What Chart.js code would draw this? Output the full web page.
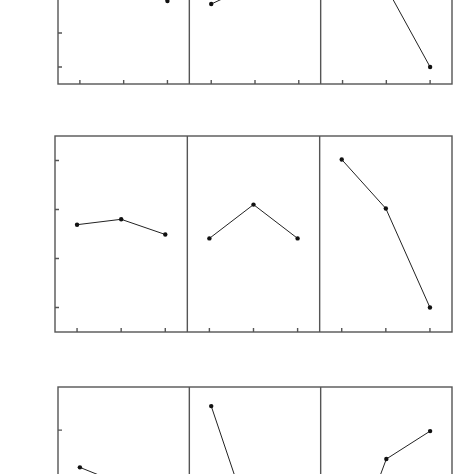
<!DOCTYPE html>
<html><head><meta charset="utf-8">
<script src="https://cdn.jsdelivr.net/npm/chart.js@4"></script>
<style>html,body{margin:0;padding:0;background:#fff;overflow:hidden;width:474px;height:474px;position:relative}
canvas{position:absolute}</style></head><body>
<canvas id="c1" width="474" height="212" style="left:0;top:-120px"></canvas>
<canvas id="c2" width="474" height="212" style="left:0;top:128px"></canvas>
<canvas id="c3" width="474" height="212" style="left:0;top:379px"></canvas>
<script>
const levelPositions = [0.5, 1.5, 2.5];
const yTicks = [1, 2, 3, 4, 5, 6];
// row 1 (top, partly cut)
const row1Panel1 = [3.5, 3.6, 2.94];
const row1Panel2 = [2.85, 3.45, 3.8];
const row1Panel3 = [4.6, 3.34, 1.0];
// row 2 (middle)
const row2Panel1 = [2.69, 2.80, 2.49];
const row2Panel2 = [2.41, 3.10, 2.41];
const row2Panel3 = [4.02, 3.02, 1.0];
// row 3 (bottom, partly cut)
const row3Panel1 = [3.24, 2.88, 2.5];
const row3Panel2 = [4.49, 1.84, 2.3];
const row3Panel3 = [1.02, 3.41, 3.98];

const boxPlugin = {
  id: 'box',
  afterDraw(chart) {
    const {ctx, chartArea: a, scales: {x, y}} = chart;
    ctx.save();
    ctx.strokeStyle = '#555'; ctx.lineWidth = 1.4;
    ctx.strokeRect(a.left, a.top, a.right - a.left, a.bottom - a.top);
    ctx.beginPath();
    [3, 6].forEach(v => { const px = x.getPixelForValue(v); ctx.moveTo(px, a.top); ctx.lineTo(px, a.bottom); });
    for (let p = 0; p < 3; p++) levelPositions.forEach(v => {
      const px = x.getPixelForValue(v + 3 * p); ctx.moveTo(px, a.bottom); ctx.lineTo(px, a.bottom - 4);
    });
    yTicks.forEach(v => {
      const py = y.getPixelForValue(v);
      if (py > a.top && py < a.bottom) { ctx.moveTo(a.left, py); ctx.lineTo(a.left + 4, py); }
    });
    ctx.stroke();
    ctx.restore();
  }
};

function makeRow(id, panels, ymin, ymax, padLeft) {
  const datasets = panels.map((vals, p) => ({
    data: vals.map((v, i) => ({x: levelPositions[i] + 3 * p, y: v})),
    borderColor: '#222', backgroundColor: '#111', borderWidth: 1,
    pointRadius: 2.2, pointBorderWidth: 0, tension: 0
  }));
  new Chart(document.getElementById(id), {
    type: 'line',
    data: {datasets},
    options: {
      responsive: false, animation: false,
      layout: {padding: {left: padLeft, right: 22, top: 8, bottom: 8}},
      plugins: {legend: {display: false}, tooltip: {enabled: false}},
      scales: {
        x: {type: 'linear', min: 0, max: 9, display: false},
        y: {type: 'linear', min: ymin, max: ymax, display: false}
      }
    },
    plugins: [boxPlugin]
  });
}
makeRow('c1', [row1Panel1, row1Panel2, row1Panel3], 0.5, 6.26, 58);
makeRow('c2', [row2Panel1, row2Panel2, row2Panel3], 0.5, 4.5, 55);
makeRow('c3', [row3Panel1, row3Panel2, row3Panel3], 0.88, 4.88, 58);
</script></body></html>
